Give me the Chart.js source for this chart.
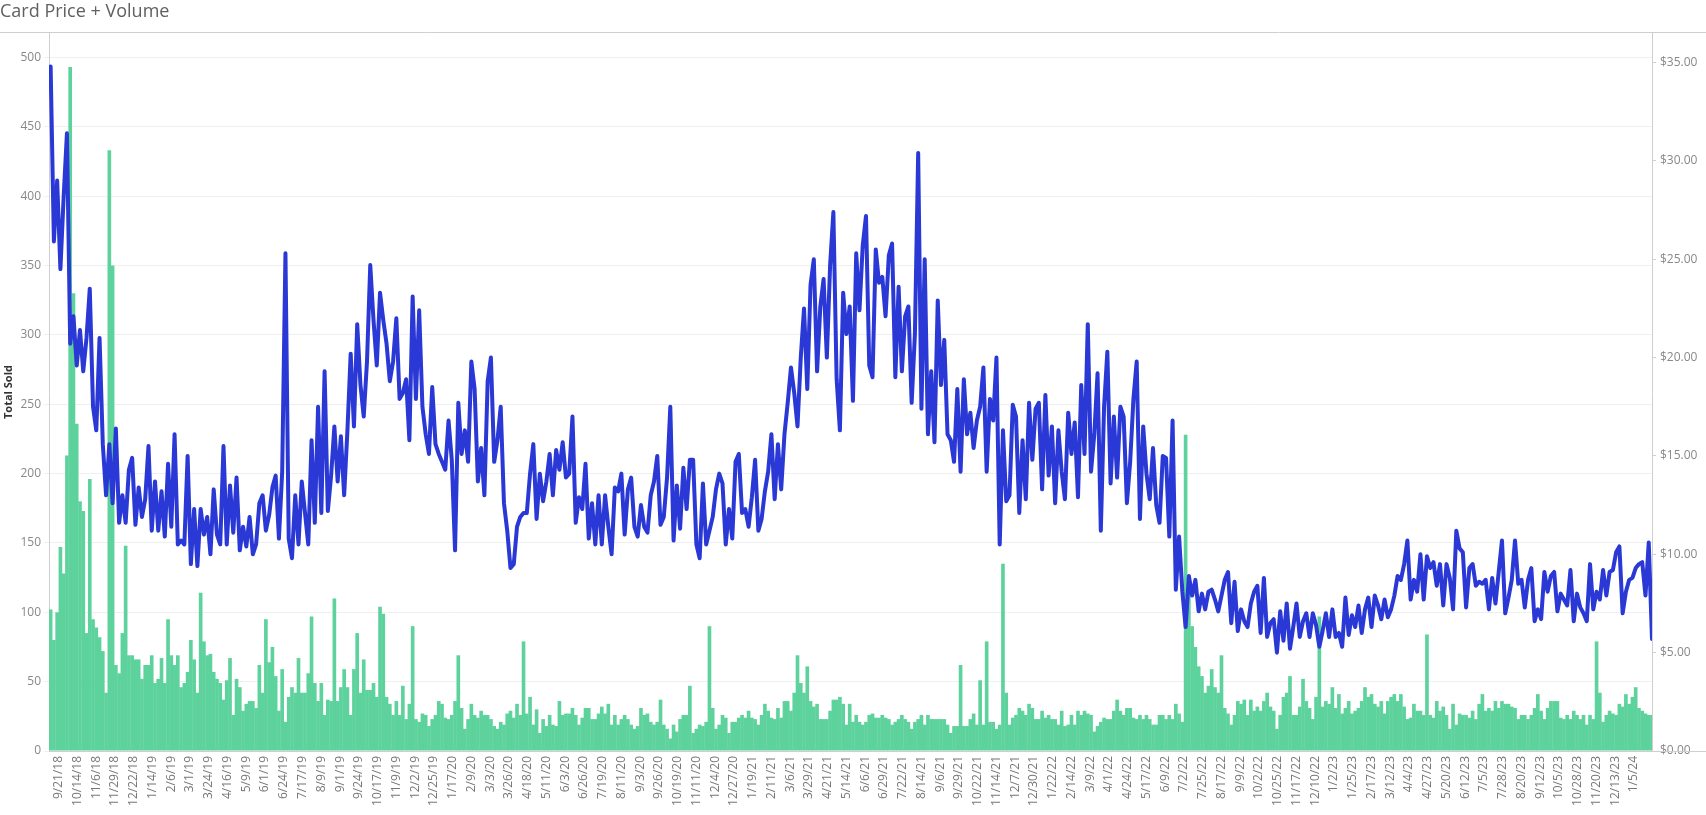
<!DOCTYPE html>
<html>
<head>
<meta charset="utf-8">
<title>Card Price + Volume</title>
<script src="https://cdn.jsdelivr.net/npm/chart.js@4.4.1/dist/chart.umd.min.js"></script>
<style>
  html, body { margin: 0; padding: 0; background: #fff; }
  #wrap { position: relative; width: 1706px; height: 815px; }
</style>
</head>
<body>
<div id="wrap"><canvas id="chart"></canvas></div>
<script>
// one sample every 4 days; day 0 = 9/21/18
const firstDay = -10;
const dayStep = 4;
const labelEvery = 23;

const tickLabels = [
  '9/21/18','10/14/18','11/6/18','11/29/18','12/22/18',
  '1/14/19','2/6/19','3/1/19','3/24/19','4/16/19','5/9/19','6/1/19','6/24/19','7/17/19','8/9/19','9/1/19','9/24/19','10/17/19','11/9/19','12/2/19','12/25/19',
  '1/17/20','2/9/20','3/3/20','3/26/20','4/18/20','5/11/20','6/3/20','6/26/20','7/19/20','8/11/20','9/3/20','9/26/20','10/19/20','11/11/20','12/4/20','12/27/20',
  '1/19/21','2/11/21','3/6/21','3/29/21','4/21/21','5/14/21','6/6/21','6/29/21','7/22/21','8/14/21','9/6/21','9/29/21','10/22/21','11/14/21','12/7/21','12/30/21',
  '1/22/22','2/14/22','3/9/22','4/1/22','4/24/22','5/17/22','6/9/22','7/2/22','7/25/22','8/17/22','9/9/22','10/2/22','10/25/22','11/17/22','12/10/22',
  '1/2/23','1/25/23','2/17/23','3/12/23','4/4/23','4/27/23','5/20/23','6/12/23','7/5/23','7/28/23','8/20/23','9/12/23','10/5/23','10/28/23','11/20/23','12/13/23',
  '1/5/24'
];

// card price, $ (right axis)
const price = [
  34.8,25.9,29.0,24.5,28.2,31.4,20.7,22.1,19.6,21.4,19.3,21.0,23.5,17.5,16.3,21.0,15.6,13.0,15.6,12.6,
  16.4,11.6,13.0,11.6,14.3,14.9,11.5,13.4,11.9,12.8,15.5,11.2,13.7,11.2,13.2,10.9,14.6,11.4,16.1,10.5,
  10.7,10.5,15.0,9.5,12.3,9.4,12.3,11.0,11.9,10.0,
  13.3,11.0,10.5,15.5,10.5,13.5,11.1,13.9,10.2,11.4,10.4,11.9,10.0,10.5,12.6,13.0,11.2,12.0,13.4,14.0,
  10.8,14.2,25.3,10.8,9.8,13.0,10.5,13.7,12.1,10.5,15.8,11.6,17.5,12.1,19.3,12.2,14.0,16.5,13.7,16.0,
  13.0,16.3,20.2,16.5,21.7,18.6,17.0,19.8,
  24.7,21.9,19.6,23.3,21.9,20.7,18.8,19.8,22.0,17.9,18.2,18.9,15.8,23.1,17.9,22.4,17.5,16.1,15.1,18.5,
  15.6,15.1,14.7,14.3,16.8,14.8,10.2,17.7,15.1,16.3,14.7,19.8,18.4,13.7,15.4,13.0,18.8,20.0,14.7,15.8,
  17.5,12.6,11.2,9.3,9.5,11.4,11.9,12.1,12.1,14.1,
  15.6,11.8,14.1,12.7,13.7,15.1,13.0,15.3,14.3,15.7,13.9,14.1,17.0,11.6,12.9,12.3,14.6,10.8,12.6,10.5,
  13.0,10.5,13.0,11.4,10.0,13.4,13.2,14.1,11.0,13.3,13.9,11.4,10.9,12.5,11.4,11.1,13.0,13.7,15.0,11.5,
  11.9,13.9,17.5,10.7,13.5,11.3,14.4,12.3,14.8,
  14.8,10.5,9.8,13.6,10.5,11.2,11.9,13.3,14.1,13.6,10.5,12.3,10.8,14.7,15.1,12.1,12.3,11.4,12.9,14.8,
  11.2,11.8,13.2,14.2,16.1,12.8,15.6,13.3,16.1,17.7,19.5,18.2,16.5,20.0,22.5,18.4,23.7,25.0,19.3,22.6,
  24.0,20.0,24.7,27.4,18.9,16.3,23.3,21.2,22.6,
  17.8,25.3,22.4,25.7,27.2,19.6,19.0,25.5,23.8,24.1,22.1,25.2,25.8,19.0,23.6,19.3,22.1,22.6,17.7,21.2,
  30.4,17.4,25.0,16.1,19.3,15.7,22.9,18.6,20.9,16.1,15.8,14.7,18.4,14.2,18.9,16.1,17.2,15.4,16.8,17.5,
  19.5,14.2,17.9,16.8,20.0,10.5,16.3,12.7,13.0,17.6,
  17.0,12.1,15.8,12.8,17.7,14.8,17.4,17.7,13.3,18.1,14.0,16.5,12.6,16.3,14.2,12.8,17.2,15.1,16.7,12.9,
  18.6,15.1,21.7,14.2,16.1,19.2,11.2,17.5,20.3,13.6,17.0,13.9,17.5,17.0,12.6,14.7,17.9,19.8,11.8,16.5,
  14.1,12.8,15.4,12.5,11.6,15.0,14.9,10.9,16.8,
  8.2,10.9,8.1,6.3,8.9,7.9,8.7,7.1,8.0,7.2,8.1,8.2,7.7,7.1,7.9,8.7,9.1,6.5,8.6,6.1,
  7.2,6.6,6.3,7.5,8.1,8.4,6.0,8.8,5.8,6.5,6.7,5.0,7.1,5.6,7.5,5.2,6.3,7.5,5.8,6.6,
  7.0,5.8,7.0,6.4,5.3,6.1,7.0,5.8,7.2,
  5.8,6.0,5.3,7.8,5.9,6.9,6.3,7.4,6.0,7.2,7.8,6.3,7.9,7.4,6.7,7.7,6.8,7.2,7.9,8.9,
  8.7,9.5,10.7,7.7,8.7,8.1,10.0,7.7,9.9,9.3,9.6,8.4,9.5,7.4,9.5,8.8,7.2,11.2,10.3,10.1,
  7.3,9.3,9.5,8.4,8.6,8.5,8.7,7.2,8.8,7.5,
  9.1,10.7,7.0,7.8,8.7,10.7,8.5,8.7,7.3,8.7,9.3,6.6,7.2,6.7,9.1,8.1,8.9,9.1,7.1,8.0,
  7.7,7.4,9.2,6.6,8.0,7.3,7.0,6.6,9.5,7.2,8.1,7.7,9.2,7.9,9.1,9.2,10.1,10.4,7.0,8.1,
  8.7,8.8,9.3,9.5,9.6,7.9,10.6,5.7
];

// total sold (left axis)
const sold = [
  102,80,100,147,128,213,493,330,236,180,173,85,196,95,89,82,72,42,433,350,
  62,56,85,148,69,69,66,66,52,62,62,69,49,52,67,49,95,69,62,69,
  46,49,57,80,66,42,114,79,69,70,
  57,52,49,37,51,67,26,52,46,29,34,36,36,31,62,42,95,64,75,54,
  29,59,21,39,46,42,67,42,42,56,97,49,36,49,26,37,36,110,36,46,
  59,46,26,59,85,42,66,44,
  44,49,39,104,99,39,34,26,36,26,47,23,34,90,23,21,27,26,18,23,
  26,36,34,24,23,26,36,69,31,16,23,34,26,24,29,26,26,23,18,16,
  21,19,27,29,24,34,26,79,27,39,
  19,30,13,23,18,26,19,18,36,26,27,27,31,26,19,24,31,31,23,23,
  27,32,27,34,19,26,19,23,26,23,19,16,18,31,26,27,21,19,21,37,
  19,16,9,19,14,23,26,26,47,
  13,16,19,18,21,90,31,16,19,26,24,13,21,21,24,26,24,29,24,23,
  19,26,34,29,24,23,31,24,36,36,29,42,69,49,42,61,36,32,34,23,
  23,23,29,37,37,39,34,19,34,
  21,26,21,19,21,26,27,24,24,26,24,23,19,21,23,26,23,21,16,21,
  23,26,19,26,23,23,23,23,23,19,13,18,18,62,18,18,23,27,19,51,
  19,79,21,21,16,19,135,42,19,24,
  26,31,29,26,34,31,23,23,29,24,26,23,23,19,29,18,19,26,19,29,
  26,29,27,26,14,18,21,24,23,23,29,37,29,26,31,31,24,23,26,23,
  26,23,19,19,26,26,23,26,23,
  34,27,21,228,120,90,75,61,54,42,47,59,46,42,69,31,27,19,26,36,
  34,37,26,37,29,32,29,36,42,32,29,16,26,39,42,54,26,26,32,52,
  36,31,23,39,97,32,36,34,46,
  31,41,27,31,36,27,29,31,36,46,39,41,34,32,36,27,36,39,41,36,
  41,32,23,24,34,29,29,26,84,26,24,36,29,32,26,16,34,19,27,26,
  26,24,29,23,34,41,29,31,29,36,
  31,36,34,34,32,31,23,26,26,23,26,31,41,29,23,31,36,36,36,24,
  23,26,23,29,26,23,26,19,26,23,79,42,21,26,29,27,26,34,32,41,
  34,39,46,31,29,27,26,26
];

const days = price.map((_, i) => firstDay + i * dayStep);

Chart.defaults.font.family = "'Open Sans', 'DejaVu Sans', sans-serif";

// title rule and the bottom axis line that runs past the right axis
const frame = {
  id: 'frame',
  afterDraw(chart) {
    const { ctx, chartArea: a, width } = chart;
    ctx.save();
    ctx.strokeStyle = '#cfcfcf';
    ctx.lineWidth = 1;
    ctx.beginPath();
    ctx.moveTo(0, 32.5); ctx.lineTo(width, 32.5);
    ctx.moveTo(a.right, Math.round(a.bottom) + 0.5); ctx.lineTo(width, Math.round(a.bottom) + 0.5);
    ctx.stroke();
    ctx.restore();
  }
};

new Chart(document.getElementById('chart'), {
  data: {
    datasets: [
      {
        type: 'line',
        label: 'Price',
        yAxisID: 'yPrice',
        data: days.map((d, i) => ({ x: d, y: price[i] })),
        borderColor: '#2a38d6',
        borderWidth: 4,
        pointRadius: 0,
        tension: 0,
        borderJoinStyle: 'round',
        borderCapStyle: 'round',
        order: 1
      },
      {
        type: 'bar',
        label: 'Total Sold',
        yAxisID: 'ySold',
        data: days.map((d, i) => ({ x: d, y: sold[i] })),
        backgroundColor: '#5dd29c',
        borderWidth: 0,
        barPercentage: 1.12,
        categoryPercentage: 1,
        order: 2
      }
    ]
  },
  options: {
    responsive: true,
    maintainAspectRatio: false,
    animation: false,
    layout: { padding: 0 },
    plugins: {
      legend: { display: false },
      tooltip: { enabled: false },
      title: {
        display: true,
        text: 'Card Price + Volume',
        align: 'start',
        color: '#606060',
        font: { size: 18, weight: 'normal' },
        padding: { top: 1, bottom: 10.4 }
      }
    },
    scales: {
      x: {
        type: 'linear',
        offset: false,
        min: -12,
        max: 1954,
        afterBuildTicks: s => { s.ticks = tickLabels.map((_, k) => ({ value: k * labelEvery })); },
        ticks: {
          callback: v => tickLabels[Math.round(v / labelEvery)],
          autoSkip: false,
          minRotation: 90,
          maxRotation: 90,
          padding: 5,
          color: '#777',
          font: { size: 12 }
        },
        grid: { display: false, drawTicks: false, offset: false },
        border: { display: true, color: '#cfcfcf' },
        afterFit: s => { s.height = 64; }
      },
      ySold: {
        position: 'left',
        min: 0,
        max: 517.6,
        ticks: { stepSize: 50, includeBounds: false, padding: 3, color: '#888', font: { size: 12 } },
        grid: { color: '#efefef', tickLength: 5 },
        border: { color: '#cfcfcf' },
        title: { display: true, text: 'Total Sold', color: '#333', font: { size: 11, weight: 'bold' }, padding: 2 },
        afterFit: s => { s.width = 49; }
      },
      yPrice: {
        position: 'right',
        min: 0,
        max: 36.5,
        ticks: { stepSize: 5, includeBounds: false, padding: 4, color: '#888', font: { size: 12 },
          callback: v => '$' + v.toFixed(2) },
        grid: { drawOnChartArea: false, color: '#cfcfcf', tickLength: 4 },
        border: { color: '#cfcfcf' },
        afterFit: s => { s.width = 54; }
      }
    }
  },
  plugins: [frame]
});
</script>
</body>
</html>
